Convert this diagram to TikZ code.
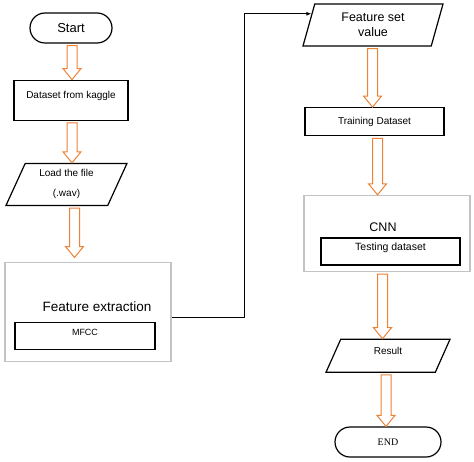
\documentclass[tikz,border=0pt]{standalone}
\usepackage{fontspec}
\setmainfont{Liberation Sans}
\newfontfamily\endfont{Liberation Serif}
\usetikzlibrary{calc,positioning,arrows.meta,shapes.geometric,shapes.misc}
\definecolor{arrorange}{RGB}{237,130,55}
\definecolor{framegray}{RGB}{195,195,195}
\tikzset{
  line/.style={-{Latex[length=5pt,width=4pt]}, line width=1.1pt},
  box/.style={draw, line width=1.2pt, align=center, inner sep=2pt},
  termbox/.style={box, rounded rectangle, minimum height=30pt},
  procbox/.style={box, minimum width=114pt, minimum height=40pt, font=\fontsize{10}{12}\selectfont},
  iobox/.style={box, trapezium, trapezium stretches body, font=\fontsize{10}{12}\selectfont},
  groupbox/.style={draw=framegray, line width=1.4pt, minimum width=166pt},
  fatarrow/.style={draw=arrorange, line width=1pt, fill=white,
    to path={let \p1=(\tikztostart), \p2=(\tikztotarget) in
      (\x1-5pt,\y1-2pt) -- (\x1+5pt,\y1-2pt) -- (\x1+5pt,\y2+11pt) -- (\x1+9pt,\y2+11pt)
      -- (\x1,\y2) -- (\x1-9pt,\y2+11pt) -- (\x1-5pt,\y2+11pt) -- cycle}}
}
\begin{document}
\begin{tikzpicture}[x=1pt, y=1pt]
  \useasboundingbox (0,0) rectangle (474,-462);
  % Left column
  \node[termbox, minimum width=86pt, font=\fontsize{13}{15}\selectfont] (start) at (71,-28) {Start};
  \node[procbox, text depth=10pt, below=36pt of start] (kaggle) {Dataset from kaggle};
  \node[iobox, below=42pt of kaggle, xshift=-4.5pt, minimum width=121pt, minimum height=42pt,
    trapezium left angle=60, trapezium right angle=120] (load) {Load the file\\[8pt](.wav)};
  \node[groupbox, minimum height=99pt, below=55.5pt of load, xshift=21.5pt] (fe) {};
  \node[font=\fontsize{13.5}{15}\selectfont] (fetitle) at ($(fe.center)+(9,5.5)$) {Feature extraction};
  \node[box, minimum width=140pt, minimum height=27pt, text depth=7pt, font=\fontsize{9}{11}\selectfont]
    (mfcc) at ($(fe.center)+(-3,-24)$) {MFCC};

  % Right column
  \node[iobox, minimum width=140pt, minimum height=42pt, font=\fontsize{12.5}{15}\selectfont,
    trapezium left angle=67, trapezium right angle=113] (fsv) at (373,-25) {Feature set\\value};
  \node[box, minimum width=139pt, minimum height=28pt, font=\fontsize{10}{12}\selectfont,
    below=60.5pt of fsv, xshift=1.5pt] (train) {Training Dataset};
  \node[groupbox, minimum height=76pt, below=58.5pt of train, xshift=12.5pt] (cnn) {};
  \node[font=\fontsize{12.5}{15}\selectfont] (cnntitle) at ($(cnn.center)+(-4,6)$) {CNN};
  \node[box, minimum width=139pt, minimum height=27pt, text depth=9pt, font=\fontsize{10.5}{12}\selectfont]
    (test) at ($(cnn.center)+(3.5,-18)$) {Testing dataset};
  \node[iobox, minimum width=124pt, minimum height=33pt, text depth=9pt, below=66.5pt of cnn, xshift=1pt,
    trapezium left angle=54, trapezium right angle=126] (result) {Result};
  \node[termbox, minimum width=110pt, font=\endfont\fontsize{10}{12}\selectfont,
    below=53.5pt of result] (end) {END};

  % Hollow arrows
  \draw[fatarrow] ([xshift=1pt]start.south) to (kaggle.north);
  \draw[fatarrow] ([xshift=1pt]kaggle.south) to (load.north);
  \draw[fatarrow] ([xshift=8pt]load.south) to ([yshift=4pt]fe.north);
  \draw[fatarrow] ([xshift=-0.5pt]fsv.south) to (train.north);
  \draw[fatarrow] ([xshift=3pt]train.south) to (cnn.north);
  \draw[fatarrow] ([xshift=-4.5pt]cnn.south) to (result.north);
  \draw[fatarrow] ([xshift=-2pt]result.south) to (end.north);

  % Feature extraction to feature set
  \coordinate (fsvin) at ($(fsv.top left corner)!0.24!(fsv.bottom left corner)$);
  \draw[line] ([yshift=-5.5pt]fe.east) -- ++(73,0) |- (fsvin);
\end{tikzpicture}
\end{document}
